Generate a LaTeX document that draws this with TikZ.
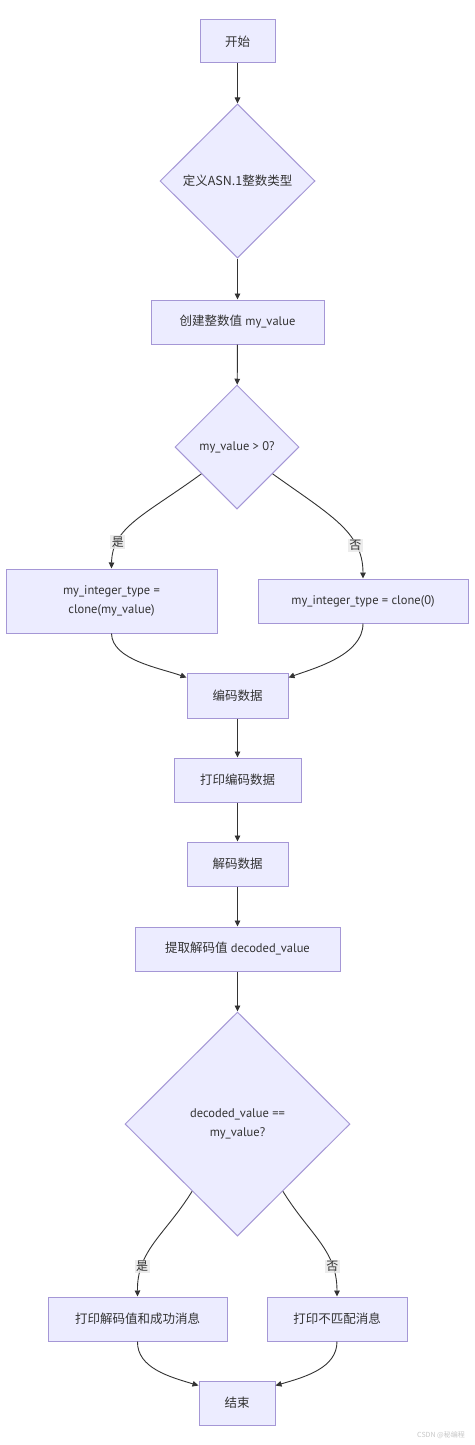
\documentclass[tikz,border=0pt]{standalone}
\usepackage{fontspec}
\setmainfont{PT Sans}
\newfontfamily\cjk{Noto Sans CJK SC}
\usetikzlibrary{shapes.geometric,arrows.meta}
\definecolor{nodefill}{HTML}{ECECFF}
\definecolor{nodeline}{HTML}{A597D6}
\definecolor{ink}{HTML}{333333}
\definecolor{lblbg}{HTML}{E8E8E8}
\begin{document}
\begin{tikzpicture}[x=1pt,y=-1pt,
 every node/.style={font=\fontsize{12.5}{19}\selectfont, text=ink},
 box/.style={draw=nodeline, fill=nodefill, line width=1pt, rectangle, inner sep=0pt, align=center},
 dia/.style={draw=nodeline, fill=nodefill, line width=1pt, diamond, aspect=1, inner sep=0pt, align=center},
 arr/.style={draw=ink, line width=0.9pt, -{Triangle[length=6pt,width=5.5pt]}},
 lbl/.style={fill=lblbg, fill opacity=0.8, text opacity=1, inner sep=1.5pt, font=\cjk\fontsize{12}{14}\selectfont}
]
\fill[white] (0,0) rectangle (474,1445);
\useasboundingbox (0,0) rectangle (474,1445);

\node[box, minimum width=75pt, minimum height=43pt] (start) at (237.5,41.5) {\cjk 开始};
\node[dia, minimum width=155pt, minimum height=154pt] (d1) at (237.5,181) {\cjk 定义ASN.1整数类型};
\node[box, minimum width=173pt, minimum height=44pt] (create) at (237.5,322) {{\cjk 创建整数值} my\_value};
\node[dia, minimum width=124pt, minimum height=124pt] (d2) at (237,447) {my\_value > 0?};
\node[box, minimum width=211pt, minimum height=64pt] (yes1) at (111.5,601) {my\_integer\_type =\\clone(my\_value)};
\node[box, minimum width=210pt, minimum height=44pt] (no1) at (363,601) {my\_integer\_type = clone(0)};
\node[box, minimum width=101pt, minimum height=45pt] (enc) at (237.5,695.5) {\cjk 编码数据};
\node[box, minimum width=127pt, minimum height=44pt] (penc) at (237.5,780) {\cjk 打印编码数据};
\node[box, minimum width=101pt, minimum height=44pt] (dec) at (237.5,864) {\cjk 解码数据};
\node[box, minimum width=205pt, minimum height=44pt] (ext) at (237.5,949) {{\cjk 提取解码值} decoded\_value};
\node[dia, minimum width=225pt, minimum height=224pt] (d3) at (237.5,1124) {decoded\_value ==\\my\_value?};
\node[box, minimum width=179pt, minimum height=44pt] (yes2) at (137.5,1319) {\cjk 打印解码值和成功消息};
\node[box, minimum width=140pt, minimum height=44pt] (no2) at (337,1319) {\cjk 打印不匹配消息};
\node[box, minimum width=76pt, minimum height=44pt] (end) at (237,1403) {\cjk 结束};

\draw[arr] (start) -- (d1);
\draw[arr] (d1) -- (create);
\draw[arr] (create) -- (d2);
\draw[arr] (d2.-143) .. controls (145,515) and (112,527) .. node[lbl, pos=0.75] (ly1) {是} (yes1.north);
\draw[arr] (d2.-37) .. controls (330,515) and (363,532) .. node[lbl, pos=0.72] (ln1) {否} (no1.north);
\draw[arr] (yes1.south) .. controls (112,660) and (160,668) .. ([yshift=-5pt]enc.north west);
\draw[arr] (no1.south) .. controls (363,655) and (315,668) .. ([yshift=-5pt]enc.north east);
\draw[arr] (enc) -- (penc);
\draw[arr] (penc) -- (dec);
\draw[arr] (dec) -- (ext);
\draw[arr] (ext) -- (d3);
\draw[arr] (d3.-124) .. controls (165,1235) and (137,1250) .. node[lbl, pos=0.75] (ly2) {是} (yes2.north);
\draw[arr] (d3.-56) .. controls (310,1235) and (337,1250) .. node[lbl, pos=0.75] (ln2) {否} (no2.north);
\draw[arr] (yes2.south) .. controls (137,1368) and (170,1377) .. ([yshift=-5pt]end.north west);
\draw[arr] (no2.south) .. controls (337,1368) and (305,1377) .. ([yshift=-5pt]end.north east);

\node[font=\cjk\fontsize{7}{8}\selectfont, text=black!22] (wm) at (441,1435) {CSDN @秘编程};
\end{tikzpicture}
\end{document}
